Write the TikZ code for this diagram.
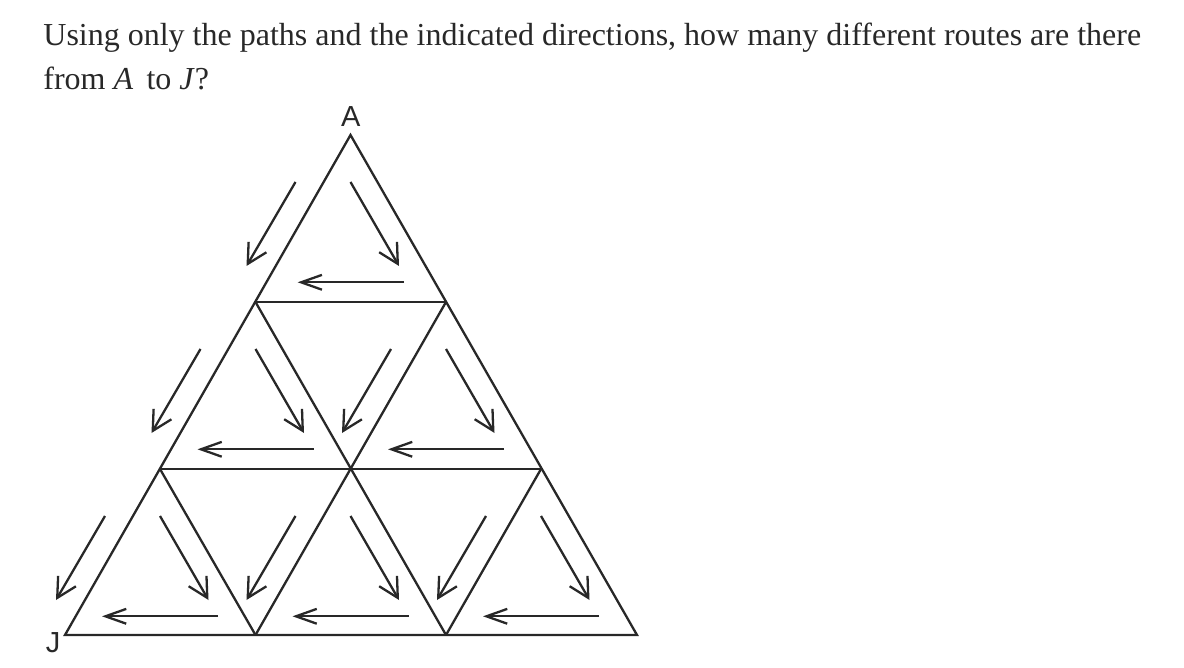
\documentclass[tikz,border=0pt]{standalone}
\usepackage{fontspec}
\setmainfont{Liberation Serif}
\newfontfamily\labelfont{Liberation Sans}
\usetikzlibrary{arrows.meta}
\definecolor{ink}{RGB}{40,40,40}

\begin{document}
\begin{tikzpicture}[x=0.5pt,y=0.5pt]
    \tikzstyle{every node}+=[inner sep=0pt, text=ink]
    \tikzstyle{edge}=[ink, line width=1.15pt, line join=miter]
    \tikzstyle{slant}=[ink, line width=1.15pt, -{Straight Barb[length=9.7pt,width=10.3pt]}]
    \tikzstyle{flat}=[ink, line width=1.15pt, -{Straight Barb[length=10.4pt,width=7.4pt]}]
    \useasboundingbox (0,0) rectangle (1184,-668);
    % question text
    \node [anchor=base west, font=\fontsize{16}{22}\selectfont] (line1) at (43,-46) {Using only the paths and the indicated directions, how many different routes are there};
    \node [anchor=base west, font=\fontsize{16}{22}\selectfont] (line2) at (43,-90) {from \textit{A}\, to \textit{J}?};
    % grid points
    \coordinate (v00) at (350.5,-135);
    \coordinate (v10) at (255.5,-302);
    \coordinate (v11) at (446,-302);
    \coordinate (v20) at (160,-469);
    \coordinate (v21) at (350.5,-469);
    \coordinate (v22) at (541,-469);
    \coordinate (v30) at (65,-635);
    \coordinate (v31) at (255.5,-635);
    \coordinate (v32) at (446,-635);
    \coordinate (v33) at (637,-635);
    \node [anchor=base, font=\labelfont\fontsize{14.5}{14.5}\selectfont] (lblA) at (350.7,-127) {A};
    \node [anchor=base, font=\labelfont\fontsize{14.5}{14.5}\selectfont] (lblJ) at (53,-652) {J};
    % paths
    \draw [edge] (v00) -- (v30) -- (v33) -- cycle;
    \draw [edge] (v10) -- (v11);
    \draw [edge] (v20) -- (v22);
    \draw [edge] (v10) -- (v32);
    \draw [edge] (v11) -- (v31);
    \draw [edge] (v20) -- (v31);
    \draw [edge] (v22) -- (v32);
    % directions, top
    \draw [slant] ([shift={(-55,-47)}]v00) -- ([shift={(-104,-131)}]v00);
    \draw [slant] ([shift={(0,-47)}]v00) -- ([shift={(48.5,-131)}]v00);
    \draw [flat] ([shift={(53.5,-147.3)}]v00) -- ([shift={(-52.8,-147.3)}]v00);
    % directions, middle row
    \draw [slant] ([shift={(-55,-47)}]v10) -- ([shift={(-104,-131)}]v10);
    \draw [slant] ([shift={(0,-47)}]v10) -- ([shift={(48.5,-131)}]v10);
    \draw [flat] ([shift={(58,-147.3)}]v10) -- ([shift={(-58,-147.3)}]v10);
    \draw [slant] ([shift={(-55,-47)}]v11) -- ([shift={(-104,-131)}]v11);
    \draw [slant] ([shift={(0,-47)}]v11) -- ([shift={(48.5,-131)}]v11);
    \draw [flat] ([shift={(58,-147.3)}]v11) -- ([shift={(-58,-147.3)}]v11);
    % directions, bottom row
    \draw [slant] ([shift={(-55,-47)}]v20) -- ([shift={(-104,-131)}]v20);
    \draw [slant] ([shift={(0,-47)}]v20) -- ([shift={(48.5,-131)}]v20);
    \draw [flat] ([shift={(58,-147.3)}]v20) -- ([shift={(-58,-147.3)}]v20);
    \draw [slant] ([shift={(-55,-47)}]v21) -- ([shift={(-104,-131)}]v21);
    \draw [slant] ([shift={(0,-47)}]v21) -- ([shift={(48.5,-131)}]v21);
    \draw [flat] ([shift={(58,-147.3)}]v21) -- ([shift={(-58,-147.3)}]v21);
    \draw [slant] ([shift={(-55,-47)}]v22) -- ([shift={(-104,-131)}]v22);
    \draw [slant] ([shift={(0,-47)}]v22) -- ([shift={(48.5,-131)}]v22);
    \draw [flat] ([shift={(58,-147.3)}]v22) -- ([shift={(-58,-147.3)}]v22);
\end{tikzpicture}
\end{document}
